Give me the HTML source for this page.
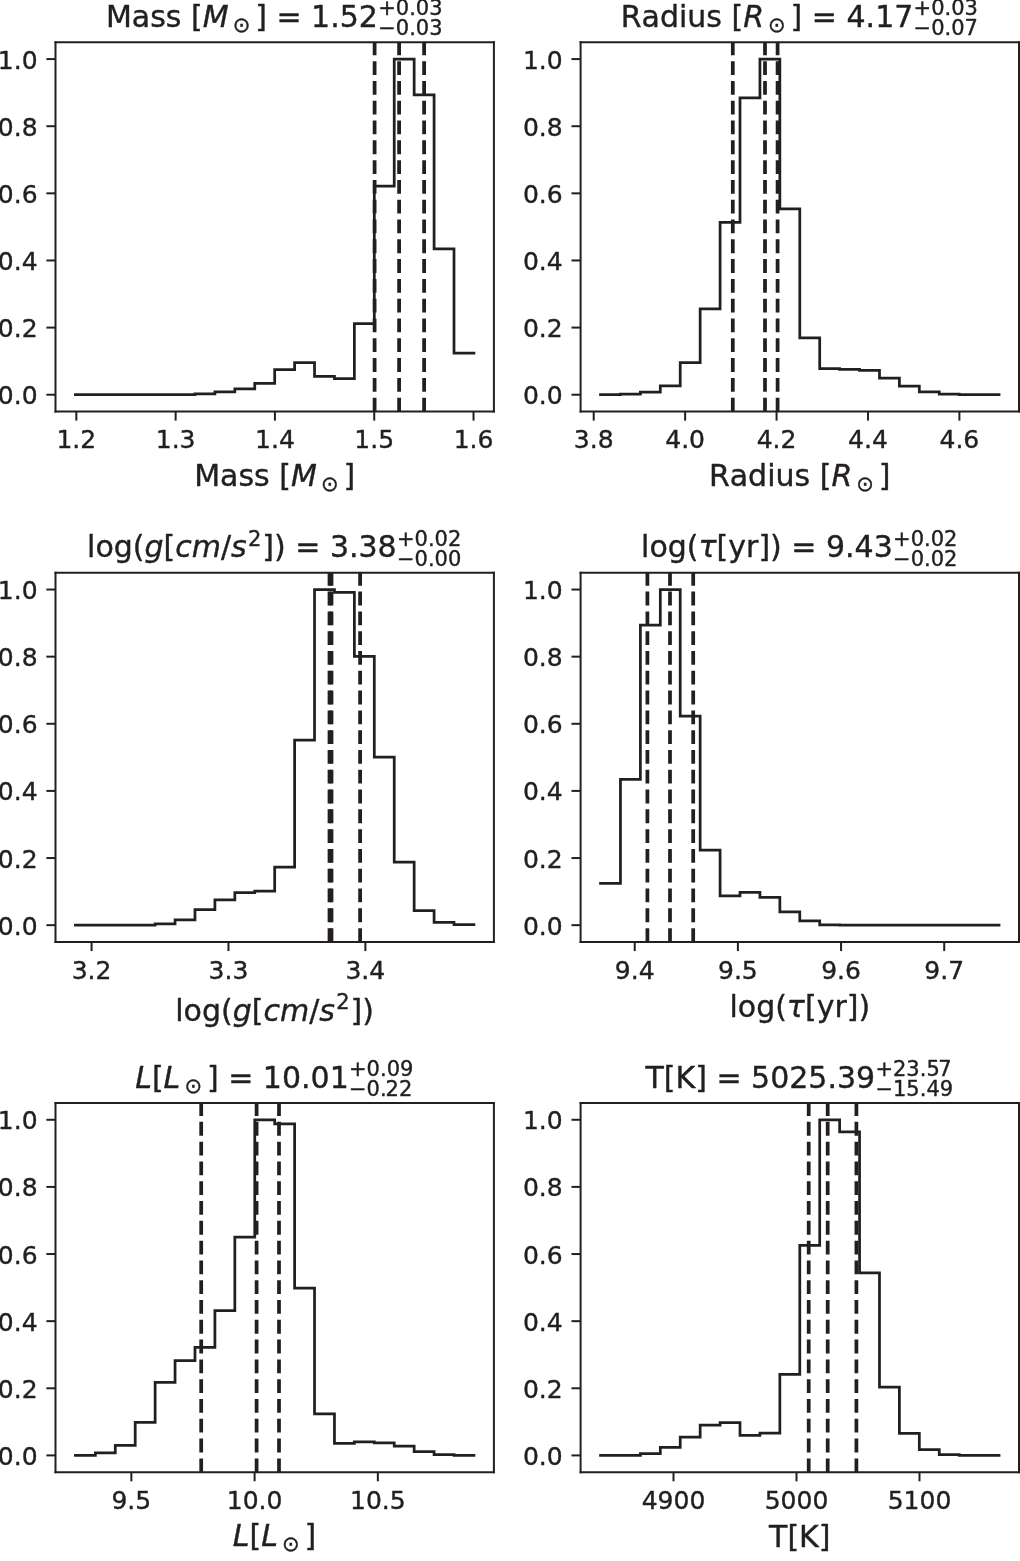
<!DOCTYPE html>
<html><head><meta charset="utf-8"><title>Posterior histograms</title>
<style>html,body{margin:0;padding:0;background:#fff;}body{width:1020px;height:1561px;overflow:hidden;}svg{display:block;}text{stroke:#231f20;stroke-width:0.16px;}</style>
</head><body>
<svg width="1020" height="1561" viewBox="0 0 408 624.4" version="1.1">
<defs>
<style type="text/css">*{stroke-linejoin: round; stroke-linecap: butt}</style>
</defs>
<g id="figure_1">
<g id="patch_1">
<path d="M 0 624.4
L 408 624.4
L 408 0
L 0 0
z
" style="fill: #ffffff"/>
</g>
<g id="axes_1">
<g id="patch_2">
<path d="M 22.2 164.6
L 197.56 164.6
L 197.56 16.92
L 22.2 16.92
z
" style="fill: #ffffff"/>
</g>
<g id="matplotlib.axis_1">
<g id="xtick_1">
<g id="line2d_1">
<g>
<path d="M 0 0
L 0 3.65
" transform="translate(30.533333 164.6)" style="fill: #231f20; stroke: #231f20; stroke-width: 0.8"/>
</g>
</g>
<g id="text_1">
<text style="font-size: 10px; font-family: 'DejaVu Sans', 'Bitstream Vera Sans', 'Computer Modern Sans Serif', 'Lucida Grande', 'Verdana', 'Geneva', 'Lucid', 'Arial', 'Helvetica', 'Avant Garde', sans-serif; text-anchor: middle; fill: #231f20" x="30.533333" y="179.348437" transform="rotate(-0 30.533333 179.348437)">1.2</text>
</g>
</g>
<g id="xtick_2">
<g id="line2d_2">
<g>
<path d="M 0 0
L 0 3.65
" transform="translate(70.253333 164.6)" style="fill: #231f20; stroke: #231f20; stroke-width: 0.8"/>
</g>
</g>
<g id="text_2">
<text style="font-size: 10px; font-family: 'DejaVu Sans', 'Bitstream Vera Sans', 'Computer Modern Sans Serif', 'Lucida Grande', 'Verdana', 'Geneva', 'Lucid', 'Arial', 'Helvetica', 'Avant Garde', sans-serif; text-anchor: middle; fill: #231f20" x="70.253333" y="179.348437" transform="rotate(-0 70.253333 179.348437)">1.3</text>
</g>
</g>
<g id="xtick_3">
<g id="line2d_3">
<g>
<path d="M 0 0
L 0 3.65
" transform="translate(109.973333 164.6)" style="fill: #231f20; stroke: #231f20; stroke-width: 0.8"/>
</g>
</g>
<g id="text_3">
<text style="font-size: 10px; font-family: 'DejaVu Sans', 'Bitstream Vera Sans', 'Computer Modern Sans Serif', 'Lucida Grande', 'Verdana', 'Geneva', 'Lucid', 'Arial', 'Helvetica', 'Avant Garde', sans-serif; text-anchor: middle; fill: #231f20" x="109.973333" y="179.348437" transform="rotate(-0 109.973333 179.348437)">1.4</text>
</g>
</g>
<g id="xtick_4">
<g id="line2d_4">
<g>
<path d="M 0 0
L 0 3.65
" transform="translate(149.693333 164.6)" style="fill: #231f20; stroke: #231f20; stroke-width: 0.8"/>
</g>
</g>
<g id="text_4">
<text style="font-size: 10px; font-family: 'DejaVu Sans', 'Bitstream Vera Sans', 'Computer Modern Sans Serif', 'Lucida Grande', 'Verdana', 'Geneva', 'Lucid', 'Arial', 'Helvetica', 'Avant Garde', sans-serif; text-anchor: middle; fill: #231f20" x="149.693333" y="179.348437" transform="rotate(-0 149.693333 179.348437)">1.5</text>
</g>
</g>
<g id="xtick_5">
<g id="line2d_5">
<g>
<path d="M 0 0
L 0 3.65
" transform="translate(189.413333 164.6)" style="fill: #231f20; stroke: #231f20; stroke-width: 0.8"/>
</g>
</g>
<g id="text_5">
<text style="font-size: 10px; font-family: 'DejaVu Sans', 'Bitstream Vera Sans', 'Computer Modern Sans Serif', 'Lucida Grande', 'Verdana', 'Geneva', 'Lucid', 'Arial', 'Helvetica', 'Avant Garde', sans-serif; text-anchor: middle; fill: #231f20" x="189.413333" y="179.348437" transform="rotate(-0 189.413333 179.348437)">1.6</text>
</g>
</g>
<g id="text_6">
<g style="fill: #231f20" transform="translate(77.66 195.30625)">
<text>
<tspan x="0" y="-0.875" style="font-size: 12px; font-family: 'DejaVu Sans'; fill: #231f20">M</tspan>
<tspan x="10.353516" y="-0.875" style="font-size: 12px; font-family: 'DejaVu Sans'; fill: #231f20">a</tspan>
<tspan x="17.707031" y="-0.875" style="font-size: 12px; font-family: 'DejaVu Sans'; fill: #231f20">s</tspan>
<tspan x="23.958984" y="-0.875" style="font-size: 12px; font-family: 'DejaVu Sans'; fill: #231f20">s</tspan>
<tspan x="30.210938" y="-0.875" style="font-size: 12px; font-family: 'DejaVu Sans'; fill: #231f20"> </tspan>
<tspan x="34.025391" y="-0.875" style="font-size: 12px; font-family: 'DejaVu Sans'; fill: #231f20">[</tspan>
<tspan x="59.7" y="-0.875" style="font-size: 12px; font-family: 'DejaVu Sans'; fill: #231f20">]</tspan>
<tspan x="38.707031" y="-0.875" style="font-style: oblique; font-size: 12px; font-family: 'DejaVu Sans'; fill: #231f20">M</tspan>
<tspan x="50.69707" y="1.09375" style="font-size: 8.4px; font-family: 'DejaVu Sans'; fill: #231f20">⊙</tspan>
</text>
</g>
</g>
</g>
<g id="matplotlib.axis_2">
<g id="ytick_1">
<g id="line2d_6">
<g>
<path d="M 0 0
L -3.65 0
" transform="translate(22.2 157.887273)" style="fill: #231f20; stroke: #231f20; stroke-width: 0.8"/>
</g>
</g>
<g id="text_7">
<text style="font-size: 10px; font-family: 'DejaVu Sans', 'Bitstream Vera Sans', 'Computer Modern Sans Serif', 'Lucida Grande', 'Verdana', 'Geneva', 'Lucid', 'Arial', 'Helvetica', 'Avant Garde', sans-serif; text-anchor: end; fill: #231f20" x="15.05" y="161.686491" transform="rotate(-0 15.05 161.686491)">0.0</text>
</g>
</g>
<g id="ytick_2">
<g id="line2d_7">
<g>
<path d="M 0 0
L -3.65 0
" transform="translate(22.2 131.036364)" style="fill: #231f20; stroke: #231f20; stroke-width: 0.8"/>
</g>
</g>
<g id="text_8">
<text style="font-size: 10px; font-family: 'DejaVu Sans', 'Bitstream Vera Sans', 'Computer Modern Sans Serif', 'Lucida Grande', 'Verdana', 'Geneva', 'Lucid', 'Arial', 'Helvetica', 'Avant Garde', sans-serif; text-anchor: end; fill: #231f20" x="15.05" y="134.835582" transform="rotate(-0 15.05 134.835582)">0.2</text>
</g>
</g>
<g id="ytick_3">
<g id="line2d_8">
<g>
<path d="M 0 0
L -3.65 0
" transform="translate(22.2 104.185455)" style="fill: #231f20; stroke: #231f20; stroke-width: 0.8"/>
</g>
</g>
<g id="text_9">
<text style="font-size: 10px; font-family: 'DejaVu Sans', 'Bitstream Vera Sans', 'Computer Modern Sans Serif', 'Lucida Grande', 'Verdana', 'Geneva', 'Lucid', 'Arial', 'Helvetica', 'Avant Garde', sans-serif; text-anchor: end; fill: #231f20" x="15.05" y="107.984673" transform="rotate(-0 15.05 107.984673)">0.4</text>
</g>
</g>
<g id="ytick_4">
<g id="line2d_9">
<g>
<path d="M 0 0
L -3.65 0
" transform="translate(22.2 77.334545)" style="fill: #231f20; stroke: #231f20; stroke-width: 0.8"/>
</g>
</g>
<g id="text_10">
<text style="font-size: 10px; font-family: 'DejaVu Sans', 'Bitstream Vera Sans', 'Computer Modern Sans Serif', 'Lucida Grande', 'Verdana', 'Geneva', 'Lucid', 'Arial', 'Helvetica', 'Avant Garde', sans-serif; text-anchor: end; fill: #231f20" x="15.05" y="81.133764" transform="rotate(-0 15.05 81.133764)">0.6</text>
</g>
</g>
<g id="ytick_5">
<g id="line2d_10">
<g>
<path d="M 0 0
L -3.65 0
" transform="translate(22.2 50.483636)" style="fill: #231f20; stroke: #231f20; stroke-width: 0.8"/>
</g>
</g>
<g id="text_11">
<text style="font-size: 10px; font-family: 'DejaVu Sans', 'Bitstream Vera Sans', 'Computer Modern Sans Serif', 'Lucida Grande', 'Verdana', 'Geneva', 'Lucid', 'Arial', 'Helvetica', 'Avant Garde', sans-serif; text-anchor: end; fill: #231f20" x="15.05" y="54.282855" transform="rotate(-0 15.05 54.282855)">0.8</text>
</g>
</g>
<g id="ytick_6">
<g id="line2d_11">
<g>
<path d="M 0 0
L -3.65 0
" transform="translate(22.2 23.632727)" style="fill: #231f20; stroke: #231f20; stroke-width: 0.8"/>
</g>
</g>
<g id="text_12">
<text style="font-size: 10px; font-family: 'DejaVu Sans', 'Bitstream Vera Sans', 'Computer Modern Sans Serif', 'Lucida Grande', 'Verdana', 'Geneva', 'Lucid', 'Arial', 'Helvetica', 'Avant Garde', sans-serif; text-anchor: end; fill: #231f20" x="15.05" y="27.431946" transform="rotate(-0 15.05 27.431946)">1.0</text>
</g>
</g>
</g>
<g id="line2d_12">
<path d="M 30.172 157.887273
L 38.142 157.887273
L 38.142 157.887273
L 46.112 157.887273
L 46.112 157.887273
L 54.082 157.887273
L 54.082 157.887273
L 62.052 157.887273
L 62.052 157.887273
L 70.022 157.887273
L 70.022 157.80672
L 77.992 157.80672
L 77.992 157.538211
L 85.962 157.538211
L 85.962 156.732684
L 93.932 156.732684
L 93.932 155.524393
L 101.902 155.524393
L 101.902 153.37632
L 109.872 153.37632
L 109.872 147.871884
L 117.842 147.871884
L 117.842 145.052538
L 125.812 145.052538
L 125.812 150.556975
L 133.782 150.556975
L 133.782 151.496756
L 141.752 151.496756
L 141.752 129.479011
L 149.722 129.479011
L 149.722 74.434647
L 157.692 74.434647
L 157.692 23.632727
L 165.662 23.632727
L 165.662 37.917411
L 173.632 37.917411
L 173.632 99.540247
L 181.602 99.540247
L 181.602 141.293411
L 189.572 141.293411
" clip-path="url(#p7768ed4035)" style="fill: none; stroke: #231f20; stroke-width: 1.1; stroke-linejoin: miter; stroke-linecap: square"/>
</g>
<g id="line2d_13">
<path d="M 149.84 164.6
L 149.84 16.92
" clip-path="url(#p7768ed4035)" style="fill: none; stroke-dasharray: 5.5278,2.3904; stroke-dashoffset: 0; stroke: #231f20; stroke-width: 1.5"/>
</g>
<g id="line2d_14">
<path d="M 159.64 164.6
L 159.64 16.92
" clip-path="url(#p7768ed4035)" style="fill: none; stroke-dasharray: 5.5278,2.3904; stroke-dashoffset: 0; stroke: #231f20; stroke-width: 1.5"/>
</g>
<g id="line2d_15">
<path d="M 169.64 164.6
L 169.64 16.92
" clip-path="url(#p7768ed4035)" style="fill: none; stroke-dasharray: 5.5278,2.3904; stroke-dashoffset: 0; stroke: #231f20; stroke-width: 1.5"/>
</g>
<g id="patch_3">
<path d="M 22.2 164.6
L 22.2 16.92
" style="fill: none; stroke: #231f20; stroke-width: 0.8; stroke-linejoin: miter; stroke-linecap: square"/>
</g>
<g id="patch_4">
<path d="M 197.56 164.6
L 197.56 16.92
" style="fill: none; stroke: #231f20; stroke-width: 0.8; stroke-linejoin: miter; stroke-linecap: square"/>
</g>
<g id="patch_5">
<path d="M 22.2 164.6
L 197.56 164.6
" style="fill: none; stroke: #231f20; stroke-width: 0.8; stroke-linejoin: miter; stroke-linecap: square"/>
</g>
<g id="patch_6">
<path d="M 22.2 16.92
L 197.56 16.92
" style="fill: none; stroke: #231f20; stroke-width: 0.8; stroke-linejoin: miter; stroke-linecap: square"/>
</g>
<g id="text_13">
<g style="fill: #231f20" transform="translate(42.38 10.92)">
<text>
<tspan x="0" y="-0.171875" style="font-size: 12px; font-family: 'DejaVu Sans'; fill: #231f20">M</tspan>
<tspan x="10.353516" y="-0.171875" style="font-size: 12px; font-family: 'DejaVu Sans'; fill: #231f20">a</tspan>
<tspan x="17.707031" y="-0.171875" style="font-size: 12px; font-family: 'DejaVu Sans'; fill: #231f20">s</tspan>
<tspan x="23.958984" y="-0.171875" style="font-size: 12px; font-family: 'DejaVu Sans'; fill: #231f20">s</tspan>
<tspan x="30.210938" y="-0.171875" style="font-size: 12px; font-family: 'DejaVu Sans'; fill: #231f20"> </tspan>
<tspan x="34.025391" y="-0.171875" style="font-size: 12px; font-family: 'DejaVu Sans'; fill: #231f20">[</tspan>
<tspan x="59.7" y="-0.171875" style="font-size: 12px; font-family: 'DejaVu Sans'; fill: #231f20">]</tspan>
<tspan x="64.381641" y="-0.171875" style="font-size: 12px; font-family: 'DejaVu Sans'; fill: #231f20"> </tspan>
<tspan x="68.196094" y="-0.171875" style="font-size: 12px; font-family: 'DejaVu Sans'; fill: #231f20">=</tspan>
<tspan x="78.250781" y="-0.171875" style="font-size: 12px; font-family: 'DejaVu Sans'; fill: #231f20"> </tspan>
<tspan x="82.065234" y="-0.171875" style="font-size: 12px; font-family: 'DejaVu Sans'; fill: #231f20">1</tspan>
<tspan x="89.7" y="-0.171875" style="font-size: 12px; font-family: 'DejaVu Sans'; fill: #231f20">.</tspan>
<tspan x="93.514453" y="-0.171875" style="font-size: 12px; font-family: 'DejaVu Sans'; fill: #231f20">5</tspan>
<tspan x="101.149219" y="-0.171875" style="font-size: 12px; font-family: 'DejaVu Sans'; fill: #231f20">2</tspan>
<tspan x="38.707031" y="-0.171875" style="font-style: oblique; font-size: 12px; font-family: 'DejaVu Sans'; fill: #231f20">M</tspan>
<tspan x="50.69707" y="1.796875" style="font-size: 8.4px; font-family: 'DejaVu Sans'; fill: #231f20">⊙</tspan>
<tspan x="108.898828" y="-4.765625" style="font-size: 8.4px; font-family: 'DejaVu Sans'; fill: #231f20">+</tspan>
<tspan x="108.898828" y="3.109375" style="font-size: 8.4px; font-family: 'DejaVu Sans'; fill: #231f20">−</tspan>
<tspan x="115.937109" y="-4.765625" style="font-size: 8.4px; font-family: 'DejaVu Sans'; fill: #231f20">0</tspan>
<tspan x="115.937109" y="3.109375" style="font-size: 8.4px; font-family: 'DejaVu Sans'; fill: #231f20">0</tspan>
<tspan x="121.281445" y="-4.765625" style="font-size: 8.4px; font-family: 'DejaVu Sans'; fill: #231f20">.</tspan>
<tspan x="121.281445" y="3.109375" style="font-size: 8.4px; font-family: 'DejaVu Sans'; fill: #231f20">.</tspan>
<tspan x="123.951562" y="-4.765625" style="font-size: 8.4px; font-family: 'DejaVu Sans'; fill: #231f20">0</tspan>
<tspan x="123.951562" y="3.109375" style="font-size: 8.4px; font-family: 'DejaVu Sans'; fill: #231f20">0</tspan>
<tspan x="129.295898" y="-4.765625" style="font-size: 8.4px; font-family: 'DejaVu Sans'; fill: #231f20">3</tspan>
<tspan x="129.295898" y="3.109375" style="font-size: 8.4px; font-family: 'DejaVu Sans'; fill: #231f20">3</tspan>
</text>
</g>
</g>
</g>
<g id="axes_2">
<g id="patch_7">
<path d="M 232.24 164.6
L 407.6 164.6
L 407.6 16.92
L 232.24 16.92
z
" style="fill: #ffffff"/>
</g>
<g id="matplotlib.axis_3">
<g id="xtick_6">
<g id="line2d_16">
<g>
<path d="M 0 0
L 0 3.65
" transform="translate(237.484 164.6)" style="fill: #231f20; stroke: #231f20; stroke-width: 0.8"/>
</g>
</g>
<g id="text_14">
<text style="font-size: 10px; font-family: 'DejaVu Sans', 'Bitstream Vera Sans', 'Computer Modern Sans Serif', 'Lucida Grande', 'Verdana', 'Geneva', 'Lucid', 'Arial', 'Helvetica', 'Avant Garde', sans-serif; text-anchor: middle; fill: #231f20" x="237.484" y="179.348437" transform="rotate(-0 237.484 179.348437)">3.8</text>
</g>
</g>
<g id="xtick_7">
<g id="line2d_17">
<g>
<path d="M 0 0
L 0 3.65
" transform="translate(274.052 164.6)" style="fill: #231f20; stroke: #231f20; stroke-width: 0.8"/>
</g>
</g>
<g id="text_15">
<text style="font-size: 10px; font-family: 'DejaVu Sans', 'Bitstream Vera Sans', 'Computer Modern Sans Serif', 'Lucida Grande', 'Verdana', 'Geneva', 'Lucid', 'Arial', 'Helvetica', 'Avant Garde', sans-serif; text-anchor: middle; fill: #231f20" x="274.052" y="179.348437" transform="rotate(-0 274.052 179.348437)">4.0</text>
</g>
</g>
<g id="xtick_8">
<g id="line2d_18">
<g>
<path d="M 0 0
L 0 3.65
" transform="translate(310.62 164.6)" style="fill: #231f20; stroke: #231f20; stroke-width: 0.8"/>
</g>
</g>
<g id="text_16">
<text style="font-size: 10px; font-family: 'DejaVu Sans', 'Bitstream Vera Sans', 'Computer Modern Sans Serif', 'Lucida Grande', 'Verdana', 'Geneva', 'Lucid', 'Arial', 'Helvetica', 'Avant Garde', sans-serif; text-anchor: middle; fill: #231f20" x="310.62" y="179.348437" transform="rotate(-0 310.62 179.348437)">4.2</text>
</g>
</g>
<g id="xtick_9">
<g id="line2d_19">
<g>
<path d="M 0 0
L 0 3.65
" transform="translate(347.188 164.6)" style="fill: #231f20; stroke: #231f20; stroke-width: 0.8"/>
</g>
</g>
<g id="text_17">
<text style="font-size: 10px; font-family: 'DejaVu Sans', 'Bitstream Vera Sans', 'Computer Modern Sans Serif', 'Lucida Grande', 'Verdana', 'Geneva', 'Lucid', 'Arial', 'Helvetica', 'Avant Garde', sans-serif; text-anchor: middle; fill: #231f20" x="347.188" y="179.348437" transform="rotate(-0 347.188 179.348437)">4.4</text>
</g>
</g>
<g id="xtick_10">
<g id="line2d_20">
<g>
<path d="M 0 0
L 0 3.65
" transform="translate(383.756 164.6)" style="fill: #231f20; stroke: #231f20; stroke-width: 0.8"/>
</g>
</g>
<g id="text_18">
<text style="font-size: 10px; font-family: 'DejaVu Sans', 'Bitstream Vera Sans', 'Computer Modern Sans Serif', 'Lucida Grande', 'Verdana', 'Geneva', 'Lucid', 'Arial', 'Helvetica', 'Avant Garde', sans-serif; text-anchor: middle; fill: #231f20" x="383.756" y="179.348437" transform="rotate(-0 383.756 179.348437)">4.6</text>
</g>
</g>
<g id="text_19">
<g style="fill: #231f20" transform="translate(283.56 195.34625)">
<text>
<tspan x="0" y="-0.875" style="font-size: 12px; font-family: 'DejaVu Sans'; fill: #231f20">R</tspan>
<tspan x="8.337891" y="-0.875" style="font-size: 12px; font-family: 'DejaVu Sans'; fill: #231f20">a</tspan>
<tspan x="15.691406" y="-0.875" style="font-size: 12px; font-family: 'DejaVu Sans'; fill: #231f20">d</tspan>
<tspan x="23.308594" y="-0.875" style="font-size: 12px; font-family: 'DejaVu Sans'; fill: #231f20">i</tspan>
<tspan x="26.642578" y="-0.875" style="font-size: 12px; font-family: 'DejaVu Sans'; fill: #231f20">u</tspan>
<tspan x="34.248047" y="-0.875" style="font-size: 12px; font-family: 'DejaVu Sans'; fill: #231f20">s</tspan>
<tspan x="40.5" y="-0.875" style="font-size: 12px; font-family: 'DejaVu Sans'; fill: #231f20"> </tspan>
<tspan x="44.314453" y="-0.875" style="font-size: 12px; font-family: 'DejaVu Sans'; fill: #231f20">[</tspan>
<tspan x="67.973438" y="-0.875" style="font-size: 12px; font-family: 'DejaVu Sans'; fill: #231f20">]</tspan>
<tspan x="48.996094" y="-0.875" style="font-style: oblique; font-size: 12px; font-family: 'DejaVu Sans'; fill: #231f20">R</tspan>
<tspan x="58.970508" y="1.09375" style="font-size: 8.4px; font-family: 'DejaVu Sans'; fill: #231f20">⊙</tspan>
</text>
</g>
</g>
</g>
<g id="matplotlib.axis_4">
<g id="ytick_7">
<g id="line2d_21">
<g>
<path d="M 0 0
L -3.65 0
" transform="translate(232.24 157.887273)" style="fill: #231f20; stroke: #231f20; stroke-width: 0.8"/>
</g>
</g>
<g id="text_20">
<text style="font-size: 10px; font-family: 'DejaVu Sans', 'Bitstream Vera Sans', 'Computer Modern Sans Serif', 'Lucida Grande', 'Verdana', 'Geneva', 'Lucid', 'Arial', 'Helvetica', 'Avant Garde', sans-serif; text-anchor: end; fill: #231f20" x="225.09" y="161.686491" transform="rotate(-0 225.09 161.686491)">0.0</text>
</g>
</g>
<g id="ytick_8">
<g id="line2d_22">
<g>
<path d="M 0 0
L -3.65 0
" transform="translate(232.24 131.036364)" style="fill: #231f20; stroke: #231f20; stroke-width: 0.8"/>
</g>
</g>
<g id="text_21">
<text style="font-size: 10px; font-family: 'DejaVu Sans', 'Bitstream Vera Sans', 'Computer Modern Sans Serif', 'Lucida Grande', 'Verdana', 'Geneva', 'Lucid', 'Arial', 'Helvetica', 'Avant Garde', sans-serif; text-anchor: end; fill: #231f20" x="225.09" y="134.835582" transform="rotate(-0 225.09 134.835582)">0.2</text>
</g>
</g>
<g id="ytick_9">
<g id="line2d_23">
<g>
<path d="M 0 0
L -3.65 0
" transform="translate(232.24 104.185455)" style="fill: #231f20; stroke: #231f20; stroke-width: 0.8"/>
</g>
</g>
<g id="text_22">
<text style="font-size: 10px; font-family: 'DejaVu Sans', 'Bitstream Vera Sans', 'Computer Modern Sans Serif', 'Lucida Grande', 'Verdana', 'Geneva', 'Lucid', 'Arial', 'Helvetica', 'Avant Garde', sans-serif; text-anchor: end; fill: #231f20" x="225.09" y="107.984673" transform="rotate(-0 225.09 107.984673)">0.4</text>
</g>
</g>
<g id="ytick_10">
<g id="line2d_24">
<g>
<path d="M 0 0
L -3.65 0
" transform="translate(232.24 77.334545)" style="fill: #231f20; stroke: #231f20; stroke-width: 0.8"/>
</g>
</g>
<g id="text_23">
<text style="font-size: 10px; font-family: 'DejaVu Sans', 'Bitstream Vera Sans', 'Computer Modern Sans Serif', 'Lucida Grande', 'Verdana', 'Geneva', 'Lucid', 'Arial', 'Helvetica', 'Avant Garde', sans-serif; text-anchor: end; fill: #231f20" x="225.09" y="81.133764" transform="rotate(-0 225.09 81.133764)">0.6</text>
</g>
</g>
<g id="ytick_11">
<g id="line2d_25">
<g>
<path d="M 0 0
L -3.65 0
" transform="translate(232.24 50.483636)" style="fill: #231f20; stroke: #231f20; stroke-width: 0.8"/>
</g>
</g>
<g id="text_24">
<text style="font-size: 10px; font-family: 'DejaVu Sans', 'Bitstream Vera Sans', 'Computer Modern Sans Serif', 'Lucida Grande', 'Verdana', 'Geneva', 'Lucid', 'Arial', 'Helvetica', 'Avant Garde', sans-serif; text-anchor: end; fill: #231f20" x="225.09" y="54.282855" transform="rotate(-0 225.09 54.282855)">0.8</text>
</g>
</g>
<g id="ytick_12">
<g id="line2d_26">
<g>
<path d="M 0 0
L -3.65 0
" transform="translate(232.24 23.632727)" style="fill: #231f20; stroke: #231f20; stroke-width: 0.8"/>
</g>
</g>
<g id="text_25">
<text style="font-size: 10px; font-family: 'DejaVu Sans', 'Bitstream Vera Sans', 'Computer Modern Sans Serif', 'Lucida Grande', 'Verdana', 'Geneva', 'Lucid', 'Arial', 'Helvetica', 'Avant Garde', sans-serif; text-anchor: end; fill: #231f20" x="225.09" y="27.431946" transform="rotate(-0 225.09 27.431946)">1.0</text>
</g>
</g>
</g>
<g id="line2d_27">
<path d="M 240.212 157.887273
L 248.182 157.887273
L 248.182 157.672465
L 256.152 157.672465
L 256.152 156.866938
L 264.122 156.866938
L 264.122 154.316102
L 272.092 154.316102
L 272.092 145.052538
L 280.062 145.052538
L 280.062 123.571811
L 288.032 123.571811
L 288.032 88.934138
L 296.002 88.934138
L 296.002 39.125702
L 303.972 39.125702
L 303.972 23.632727
L 311.942 23.632727
L 311.942 83.563956
L 319.912 83.563956
L 319.912 135.117702
L 327.882 135.117702
L 327.882 147.46912
L 335.852 147.46912
L 335.852 147.737629
L 343.822 147.737629
L 343.822 148.140393
L 351.792 148.140393
L 351.792 151.228247
L 359.762 151.228247
L 359.762 154.450356
L 367.732 154.450356
L 367.732 156.732684
L 375.702 156.732684
L 375.702 157.672465
L 383.672 157.672465
L 383.672 157.887273
L 391.642 157.887273
L 391.642 157.887273
L 399.612 157.887273
" clip-path="url(#pa40508219f)" style="fill: none; stroke: #231f20; stroke-width: 1.1; stroke-linejoin: miter; stroke-linecap: square"/>
</g>
<g id="line2d_28">
<path d="M 293.12 164.6
L 293.12 16.92
" clip-path="url(#pa40508219f)" style="fill: none; stroke-dasharray: 5.5278,2.3904; stroke-dashoffset: 0; stroke: #231f20; stroke-width: 1.5"/>
</g>
<g id="line2d_29">
<path d="M 306 164.6
L 306 16.92
" clip-path="url(#pa40508219f)" style="fill: none; stroke-dasharray: 5.5278,2.3904; stroke-dashoffset: 0; stroke: #231f20; stroke-width: 1.5"/>
</g>
<g id="line2d_30">
<path d="M 311.04 164.6
L 311.04 16.92
" clip-path="url(#pa40508219f)" style="fill: none; stroke-dasharray: 5.5278,2.3904; stroke-dashoffset: 0; stroke: #231f20; stroke-width: 1.5"/>
</g>
<g id="patch_8">
<path d="M 232.24 164.6
L 232.24 16.92
" style="fill: none; stroke: #231f20; stroke-width: 0.8; stroke-linejoin: miter; stroke-linecap: square"/>
</g>
<g id="patch_9">
<path d="M 407.6 164.6
L 407.6 16.92
" style="fill: none; stroke: #231f20; stroke-width: 0.8; stroke-linejoin: miter; stroke-linecap: square"/>
</g>
<g id="patch_10">
<path d="M 232.24 164.6
L 407.6 164.6
" style="fill: none; stroke: #231f20; stroke-width: 0.8; stroke-linejoin: miter; stroke-linecap: square"/>
</g>
<g id="patch_11">
<path d="M 232.24 16.92
L 407.6 16.92
" style="fill: none; stroke: #231f20; stroke-width: 0.8; stroke-linejoin: miter; stroke-linecap: square"/>
</g>
<g id="text_26">
<g style="fill: #231f20" transform="translate(248.28 10.92)">
<text>
<tspan x="0" y="-0.171875" style="font-size: 12px; font-family: 'DejaVu Sans'; fill: #231f20">R</tspan>
<tspan x="8.337891" y="-0.171875" style="font-size: 12px; font-family: 'DejaVu Sans'; fill: #231f20">a</tspan>
<tspan x="15.691406" y="-0.171875" style="font-size: 12px; font-family: 'DejaVu Sans'; fill: #231f20">d</tspan>
<tspan x="23.308594" y="-0.171875" style="font-size: 12px; font-family: 'DejaVu Sans'; fill: #231f20">i</tspan>
<tspan x="26.642578" y="-0.171875" style="font-size: 12px; font-family: 'DejaVu Sans'; fill: #231f20">u</tspan>
<tspan x="34.248047" y="-0.171875" style="font-size: 12px; font-family: 'DejaVu Sans'; fill: #231f20">s</tspan>
<tspan x="40.5" y="-0.171875" style="font-size: 12px; font-family: 'DejaVu Sans'; fill: #231f20"> </tspan>
<tspan x="44.314453" y="-0.171875" style="font-size: 12px; font-family: 'DejaVu Sans'; fill: #231f20">[</tspan>
<tspan x="67.973438" y="-0.171875" style="font-size: 12px; font-family: 'DejaVu Sans'; fill: #231f20">]</tspan>
<tspan x="72.655078" y="-0.171875" style="font-size: 12px; font-family: 'DejaVu Sans'; fill: #231f20"> </tspan>
<tspan x="76.469531" y="-0.171875" style="font-size: 12px; font-family: 'DejaVu Sans'; fill: #231f20">=</tspan>
<tspan x="86.524219" y="-0.171875" style="font-size: 12px; font-family: 'DejaVu Sans'; fill: #231f20"> </tspan>
<tspan x="90.338672" y="-0.171875" style="font-size: 12px; font-family: 'DejaVu Sans'; fill: #231f20">4</tspan>
<tspan x="97.973438" y="-0.171875" style="font-size: 12px; font-family: 'DejaVu Sans'; fill: #231f20">.</tspan>
<tspan x="101.787891" y="-0.171875" style="font-size: 12px; font-family: 'DejaVu Sans'; fill: #231f20">1</tspan>
<tspan x="109.422656" y="-0.171875" style="font-size: 12px; font-family: 'DejaVu Sans'; fill: #231f20">7</tspan>
<tspan x="48.996094" y="-0.171875" style="font-style: oblique; font-size: 12px; font-family: 'DejaVu Sans'; fill: #231f20">R</tspan>
<tspan x="58.970508" y="1.796875" style="font-size: 8.4px; font-family: 'DejaVu Sans'; fill: #231f20">⊙</tspan>
<tspan x="117.172266" y="-4.765625" style="font-size: 8.4px; font-family: 'DejaVu Sans'; fill: #231f20">+</tspan>
<tspan x="117.172266" y="3.109375" style="font-size: 8.4px; font-family: 'DejaVu Sans'; fill: #231f20">−</tspan>
<tspan x="124.210547" y="-4.765625" style="font-size: 8.4px; font-family: 'DejaVu Sans'; fill: #231f20">0</tspan>
<tspan x="124.210547" y="3.109375" style="font-size: 8.4px; font-family: 'DejaVu Sans'; fill: #231f20">0</tspan>
<tspan x="129.554883" y="-4.765625" style="font-size: 8.4px; font-family: 'DejaVu Sans'; fill: #231f20">.</tspan>
<tspan x="129.554883" y="3.109375" style="font-size: 8.4px; font-family: 'DejaVu Sans'; fill: #231f20">.</tspan>
<tspan x="132.225" y="-4.765625" style="font-size: 8.4px; font-family: 'DejaVu Sans'; fill: #231f20">0</tspan>
<tspan x="132.225" y="3.109375" style="font-size: 8.4px; font-family: 'DejaVu Sans'; fill: #231f20">0</tspan>
<tspan x="137.569336" y="-4.765625" style="font-size: 8.4px; font-family: 'DejaVu Sans'; fill: #231f20">3</tspan>
<tspan x="137.569336" y="3.109375" style="font-size: 8.4px; font-family: 'DejaVu Sans'; fill: #231f20">7</tspan>
</text>
</g>
</g>
</g>
<g id="axes_3">
<g id="patch_12">
<path d="M 22.2 376.78
L 197.56 376.78
L 197.56 229.1
L 22.2 229.1
z
" style="fill: #ffffff"/>
</g>
<g id="matplotlib.axis_5">
<g id="xtick_11">
<g id="line2d_31">
<g>
<path d="M 0 0
L 0 3.65
" transform="translate(36.626667 376.78)" style="fill: #231f20; stroke: #231f20; stroke-width: 0.8"/>
</g>
</g>
<g id="text_27">
<text style="font-size: 10px; font-family: 'DejaVu Sans', 'Bitstream Vera Sans', 'Computer Modern Sans Serif', 'Lucida Grande', 'Verdana', 'Geneva', 'Lucid', 'Arial', 'Helvetica', 'Avant Garde', sans-serif; text-anchor: middle; fill: #231f20" x="36.626667" y="391.528437" transform="rotate(-0 36.626667 391.528437)">3.2</text>
</g>
</g>
<g id="xtick_12">
<g id="line2d_32">
<g>
<path d="M 0 0
L 0 3.65
" transform="translate(91.386667 376.78)" style="fill: #231f20; stroke: #231f20; stroke-width: 0.8"/>
</g>
</g>
<g id="text_28">
<text style="font-size: 10px; font-family: 'DejaVu Sans', 'Bitstream Vera Sans', 'Computer Modern Sans Serif', 'Lucida Grande', 'Verdana', 'Geneva', 'Lucid', 'Arial', 'Helvetica', 'Avant Garde', sans-serif; text-anchor: middle; fill: #231f20" x="91.386667" y="391.528437" transform="rotate(-0 91.386667 391.528437)">3.3</text>
</g>
</g>
<g id="xtick_13">
<g id="line2d_33">
<g>
<path d="M 0 0
L 0 3.65
" transform="translate(146.146667 376.78)" style="fill: #231f20; stroke: #231f20; stroke-width: 0.8"/>
</g>
</g>
<g id="text_29">
<text style="font-size: 10px; font-family: 'DejaVu Sans', 'Bitstream Vera Sans', 'Computer Modern Sans Serif', 'Lucida Grande', 'Verdana', 'Geneva', 'Lucid', 'Arial', 'Helvetica', 'Avant Garde', sans-serif; text-anchor: middle; fill: #231f20" x="146.146667" y="391.528437" transform="rotate(-0 146.146667 391.528437)">3.4</text>
</g>
</g>
<g id="text_30">
<g style="fill: #231f20" transform="translate(70.1 408.528125)">
<text>
<tspan x="0" y="-0.171875" style="font-size: 12px; font-family: 'DejaVu Sans'; fill: #231f20">l</tspan>
<tspan x="3.333984" y="-0.171875" style="font-size: 12px; font-family: 'DejaVu Sans'; fill: #231f20">o</tspan>
<tspan x="10.675781" y="-0.171875" style="font-size: 12px; font-family: 'DejaVu Sans'; fill: #231f20">g</tspan>
<tspan x="18.292969" y="-0.171875" style="font-size: 12px; font-family: 'DejaVu Sans'; fill: #231f20">(</tspan>
<tspan x="30.591797" y="-0.171875" style="font-size: 12px; font-family: 'DejaVu Sans'; fill: #231f20">[</tspan>
<tspan x="53.560547" y="-0.171875" style="font-size: 12px; font-family: 'DejaVu Sans'; fill: #231f20">/</tspan>
<tspan x="70.085742" y="-0.171875" style="font-size: 12px; font-family: 'DejaVu Sans'; fill: #231f20">]</tspan>
<tspan x="74.767383" y="-0.171875" style="font-size: 12px; font-family: 'DejaVu Sans'; fill: #231f20">)</tspan>
<tspan x="22.974609" y="-0.171875" style="font-style: oblique; font-size: 12px; font-family: 'DejaVu Sans'; fill: #231f20">g</tspan>
<tspan x="35.273438" y="-0.171875" style="font-style: oblique; font-size: 12px; font-family: 'DejaVu Sans'; fill: #231f20">c</tspan>
<tspan x="41.871094" y="-0.171875" style="font-style: oblique; font-size: 12px; font-family: 'DejaVu Sans'; fill: #231f20">m</tspan>
<tspan x="57.603516" y="-0.171875" style="font-style: oblique; font-size: 12px; font-family: 'DejaVu Sans'; fill: #231f20">s</tspan>
<tspan x="64.413281" y="-4.765625" style="font-size: 8.4px; font-family: 'DejaVu Sans'; fill: #231f20">2</tspan>
</text>
</g>
</g>
</g>
<g id="matplotlib.axis_6">
<g id="ytick_13">
<g id="line2d_34">
<g>
<path d="M 0 0
L -3.65 0
" transform="translate(22.2 370.067273)" style="fill: #231f20; stroke: #231f20; stroke-width: 0.8"/>
</g>
</g>
<g id="text_31">
<text style="font-size: 10px; font-family: 'DejaVu Sans', 'Bitstream Vera Sans', 'Computer Modern Sans Serif', 'Lucida Grande', 'Verdana', 'Geneva', 'Lucid', 'Arial', 'Helvetica', 'Avant Garde', sans-serif; text-anchor: end; fill: #231f20" x="15.05" y="373.866491" transform="rotate(-0 15.05 373.866491)">0.0</text>
</g>
</g>
<g id="ytick_14">
<g id="line2d_35">
<g>
<path d="M 0 0
L -3.65 0
" transform="translate(22.2 343.216364)" style="fill: #231f20; stroke: #231f20; stroke-width: 0.8"/>
</g>
</g>
<g id="text_32">
<text style="font-size: 10px; font-family: 'DejaVu Sans', 'Bitstream Vera Sans', 'Computer Modern Sans Serif', 'Lucida Grande', 'Verdana', 'Geneva', 'Lucid', 'Arial', 'Helvetica', 'Avant Garde', sans-serif; text-anchor: end; fill: #231f20" x="15.05" y="347.015582" transform="rotate(-0 15.05 347.015582)">0.2</text>
</g>
</g>
<g id="ytick_15">
<g id="line2d_36">
<g>
<path d="M 0 0
L -3.65 0
" transform="translate(22.2 316.365455)" style="fill: #231f20; stroke: #231f20; stroke-width: 0.8"/>
</g>
</g>
<g id="text_33">
<text style="font-size: 10px; font-family: 'DejaVu Sans', 'Bitstream Vera Sans', 'Computer Modern Sans Serif', 'Lucida Grande', 'Verdana', 'Geneva', 'Lucid', 'Arial', 'Helvetica', 'Avant Garde', sans-serif; text-anchor: end; fill: #231f20" x="15.05" y="320.164673" transform="rotate(-0 15.05 320.164673)">0.4</text>
</g>
</g>
<g id="ytick_16">
<g id="line2d_37">
<g>
<path d="M 0 0
L -3.65 0
" transform="translate(22.2 289.514545)" style="fill: #231f20; stroke: #231f20; stroke-width: 0.8"/>
</g>
</g>
<g id="text_34">
<text style="font-size: 10px; font-family: 'DejaVu Sans', 'Bitstream Vera Sans', 'Computer Modern Sans Serif', 'Lucida Grande', 'Verdana', 'Geneva', 'Lucid', 'Arial', 'Helvetica', 'Avant Garde', sans-serif; text-anchor: end; fill: #231f20" x="15.05" y="293.313764" transform="rotate(-0 15.05 293.313764)">0.6</text>
</g>
</g>
<g id="ytick_17">
<g id="line2d_38">
<g>
<path d="M 0 0
L -3.65 0
" transform="translate(22.2 262.663636)" style="fill: #231f20; stroke: #231f20; stroke-width: 0.8"/>
</g>
</g>
<g id="text_35">
<text style="font-size: 10px; font-family: 'DejaVu Sans', 'Bitstream Vera Sans', 'Computer Modern Sans Serif', 'Lucida Grande', 'Verdana', 'Geneva', 'Lucid', 'Arial', 'Helvetica', 'Avant Garde', sans-serif; text-anchor: end; fill: #231f20" x="15.05" y="266.462855" transform="rotate(-0 15.05 266.462855)">0.8</text>
</g>
</g>
<g id="ytick_18">
<g id="line2d_39">
<g>
<path d="M 0 0
L -3.65 0
" transform="translate(22.2 235.812727)" style="fill: #231f20; stroke: #231f20; stroke-width: 0.8"/>
</g>
</g>
<g id="text_36">
<text style="font-size: 10px; font-family: 'DejaVu Sans', 'Bitstream Vera Sans', 'Computer Modern Sans Serif', 'Lucida Grande', 'Verdana', 'Geneva', 'Lucid', 'Arial', 'Helvetica', 'Avant Garde', sans-serif; text-anchor: end; fill: #231f20" x="15.05" y="239.611946" transform="rotate(-0 15.05 239.611946)">1.0</text>
</g>
</g>
</g>
<g id="line2d_40">
<path d="M 30.172 370.067273
L 38.142 370.067273
L 38.142 370.067273
L 46.112 370.067273
L 46.112 370.067273
L 54.082 370.067273
L 54.082 370.067273
L 62.052 370.067273
L 62.052 369.583956
L 70.022 369.583956
L 70.022 367.972902
L 77.992 367.972902
L 77.992 363.811011
L 85.962 363.811011
L 85.962 359.917629
L 93.932 359.917629
L 93.932 357.098284
L 101.902 357.098284
L 101.902 356.427011
L 109.872 356.427011
L 109.872 346.894938
L 117.842 346.894938
L 117.842 296.012465
L 125.812 296.012465
L 125.812 235.812727
L 133.782 235.812727
L 133.782 236.940465
L 141.752 236.940465
L 141.752 262.583084
L 149.722 262.583084
L 149.722 302.859447
L 157.692 302.859447
L 157.692 344.88112
L 165.662 344.88112
L 165.662 364.213775
L 173.632 364.213775
L 173.632 368.912684
L 181.602 368.912684
L 181.602 369.852465
L 189.572 369.852465
" clip-path="url(#p136ecbd6a4)" style="fill: none; stroke: #231f20; stroke-width: 1.1; stroke-linejoin: miter; stroke-linecap: square"/>
</g>
<g id="line2d_41">
<path d="M 131.8 376.78
L 131.8 229.1
" clip-path="url(#p136ecbd6a4)" style="fill: none; stroke-dasharray: 5.5278,2.3904; stroke-dashoffset: 0; stroke: #231f20; stroke-width: 1.5"/>
</g>
<g id="line2d_42">
<path d="M 132.6 376.78
L 132.6 229.1
" clip-path="url(#p136ecbd6a4)" style="fill: none; stroke-dasharray: 5.5278,2.3904; stroke-dashoffset: 0; stroke: #231f20; stroke-width: 1.5"/>
</g>
<g id="line2d_43">
<path d="M 144.04 376.78
L 144.04 229.1
" clip-path="url(#p136ecbd6a4)" style="fill: none; stroke-dasharray: 5.5278,2.3904; stroke-dashoffset: 0; stroke: #231f20; stroke-width: 1.5"/>
</g>
<g id="patch_13">
<path d="M 22.2 376.78
L 22.2 229.1
" style="fill: none; stroke: #231f20; stroke-width: 0.8; stroke-linejoin: miter; stroke-linecap: square"/>
</g>
<g id="patch_14">
<path d="M 197.56 376.78
L 197.56 229.1
" style="fill: none; stroke: #231f20; stroke-width: 0.8; stroke-linejoin: miter; stroke-linecap: square"/>
</g>
<g id="patch_15">
<path d="M 22.2 376.78
L 197.56 376.78
" style="fill: none; stroke: #231f20; stroke-width: 0.8; stroke-linejoin: miter; stroke-linecap: square"/>
</g>
<g id="patch_16">
<path d="M 22.2 229.1
L 197.56 229.1
" style="fill: none; stroke: #231f20; stroke-width: 0.8; stroke-linejoin: miter; stroke-linecap: square"/>
</g>
<g id="text_37">
<g style="fill: #231f20" transform="translate(34.82 223.1)">
<text>
<tspan x="0" y="-0.171875" style="font-size: 12px; font-family: 'DejaVu Sans'; fill: #231f20">l</tspan>
<tspan x="3.333984" y="-0.171875" style="font-size: 12px; font-family: 'DejaVu Sans'; fill: #231f20">o</tspan>
<tspan x="10.675781" y="-0.171875" style="font-size: 12px; font-family: 'DejaVu Sans'; fill: #231f20">g</tspan>
<tspan x="18.292969" y="-0.171875" style="font-size: 12px; font-family: 'DejaVu Sans'; fill: #231f20">(</tspan>
<tspan x="30.591797" y="-0.171875" style="font-size: 12px; font-family: 'DejaVu Sans'; fill: #231f20">[</tspan>
<tspan x="53.560547" y="-0.171875" style="font-size: 12px; font-family: 'DejaVu Sans'; fill: #231f20">/</tspan>
<tspan x="70.085742" y="-0.171875" style="font-size: 12px; font-family: 'DejaVu Sans'; fill: #231f20">]</tspan>
<tspan x="74.767383" y="-0.171875" style="font-size: 12px; font-family: 'DejaVu Sans'; fill: #231f20">)</tspan>
<tspan x="79.449023" y="-0.171875" style="font-size: 12px; font-family: 'DejaVu Sans'; fill: #231f20"> </tspan>
<tspan x="83.263477" y="-0.171875" style="font-size: 12px; font-family: 'DejaVu Sans'; fill: #231f20">=</tspan>
<tspan x="93.318164" y="-0.171875" style="font-size: 12px; font-family: 'DejaVu Sans'; fill: #231f20"> </tspan>
<tspan x="97.132617" y="-0.171875" style="font-size: 12px; font-family: 'DejaVu Sans'; fill: #231f20">3</tspan>
<tspan x="104.767383" y="-0.171875" style="font-size: 12px; font-family: 'DejaVu Sans'; fill: #231f20">.</tspan>
<tspan x="108.581836" y="-0.171875" style="font-size: 12px; font-family: 'DejaVu Sans'; fill: #231f20">3</tspan>
<tspan x="116.216602" y="-0.171875" style="font-size: 12px; font-family: 'DejaVu Sans'; fill: #231f20">8</tspan>
<tspan x="22.974609" y="-0.171875" style="font-style: oblique; font-size: 12px; font-family: 'DejaVu Sans'; fill: #231f20">g</tspan>
<tspan x="35.273438" y="-0.171875" style="font-style: oblique; font-size: 12px; font-family: 'DejaVu Sans'; fill: #231f20">c</tspan>
<tspan x="41.871094" y="-0.171875" style="font-style: oblique; font-size: 12px; font-family: 'DejaVu Sans'; fill: #231f20">m</tspan>
<tspan x="57.603516" y="-0.171875" style="font-style: oblique; font-size: 12px; font-family: 'DejaVu Sans'; fill: #231f20">s</tspan>
<tspan x="64.413281" y="-4.765625" style="font-size: 8.4px; font-family: 'DejaVu Sans'; fill: #231f20">2</tspan>
<tspan x="123.966211" y="-4.765625" style="font-size: 8.4px; font-family: 'DejaVu Sans'; fill: #231f20">+</tspan>
<tspan x="123.966211" y="3.109375" style="font-size: 8.4px; font-family: 'DejaVu Sans'; fill: #231f20">−</tspan>
<tspan x="131.004492" y="-4.765625" style="font-size: 8.4px; font-family: 'DejaVu Sans'; fill: #231f20">0</tspan>
<tspan x="131.004492" y="3.109375" style="font-size: 8.4px; font-family: 'DejaVu Sans'; fill: #231f20">0</tspan>
<tspan x="136.348828" y="-4.765625" style="font-size: 8.4px; font-family: 'DejaVu Sans'; fill: #231f20">.</tspan>
<tspan x="136.348828" y="3.109375" style="font-size: 8.4px; font-family: 'DejaVu Sans'; fill: #231f20">.</tspan>
<tspan x="139.018945" y="-4.765625" style="font-size: 8.4px; font-family: 'DejaVu Sans'; fill: #231f20">0</tspan>
<tspan x="139.018945" y="3.109375" style="font-size: 8.4px; font-family: 'DejaVu Sans'; fill: #231f20">0</tspan>
<tspan x="144.363281" y="-4.765625" style="font-size: 8.4px; font-family: 'DejaVu Sans'; fill: #231f20">2</tspan>
<tspan x="144.363281" y="3.109375" style="font-size: 8.4px; font-family: 'DejaVu Sans'; fill: #231f20">0</tspan>
</text>
</g>
</g>
</g>
<g id="axes_4">
<g id="patch_17">
<path d="M 232.24 376.78
L 407.6 376.78
L 407.6 229.1
L 232.24 229.1
z
" style="fill: #ffffff"/>
</g>
<g id="matplotlib.axis_7">
<g id="xtick_14">
<g id="line2d_44">
<g>
<path d="M 0 0
L 0 3.65
" transform="translate(253.888 376.78)" style="fill: #231f20; stroke: #231f20; stroke-width: 0.8"/>
</g>
</g>
<g id="text_38">
<text style="font-size: 10px; font-family: 'DejaVu Sans', 'Bitstream Vera Sans', 'Computer Modern Sans Serif', 'Lucida Grande', 'Verdana', 'Geneva', 'Lucid', 'Arial', 'Helvetica', 'Avant Garde', sans-serif; text-anchor: middle; fill: #231f20" x="253.888" y="391.528437" transform="rotate(-0 253.888 391.528437)">9.4</text>
</g>
</g>
<g id="xtick_15">
<g id="line2d_45">
<g>
<path d="M 0 0
L 0 3.65
" transform="translate(295.156 376.78)" style="fill: #231f20; stroke: #231f20; stroke-width: 0.8"/>
</g>
</g>
<g id="text_39">
<text style="font-size: 10px; font-family: 'DejaVu Sans', 'Bitstream Vera Sans', 'Computer Modern Sans Serif', 'Lucida Grande', 'Verdana', 'Geneva', 'Lucid', 'Arial', 'Helvetica', 'Avant Garde', sans-serif; text-anchor: middle; fill: #231f20" x="295.156" y="391.528437" transform="rotate(-0 295.156 391.528437)">9.5</text>
</g>
</g>
<g id="xtick_16">
<g id="line2d_46">
<g>
<path d="M 0 0
L 0 3.65
" transform="translate(336.424 376.78)" style="fill: #231f20; stroke: #231f20; stroke-width: 0.8"/>
</g>
</g>
<g id="text_40">
<text style="font-size: 10px; font-family: 'DejaVu Sans', 'Bitstream Vera Sans', 'Computer Modern Sans Serif', 'Lucida Grande', 'Verdana', 'Geneva', 'Lucid', 'Arial', 'Helvetica', 'Avant Garde', sans-serif; text-anchor: middle; fill: #231f20" x="336.424" y="391.528437" transform="rotate(-0 336.424 391.528437)">9.6</text>
</g>
</g>
<g id="xtick_17">
<g id="line2d_47">
<g>
<path d="M 0 0
L 0 3.65
" transform="translate(377.692 376.78)" style="fill: #231f20; stroke: #231f20; stroke-width: 0.8"/>
</g>
</g>
<g id="text_41">
<text style="font-size: 10px; font-family: 'DejaVu Sans', 'Bitstream Vera Sans', 'Computer Modern Sans Serif', 'Lucida Grande', 'Verdana', 'Geneva', 'Lucid', 'Arial', 'Helvetica', 'Avant Garde', sans-serif; text-anchor: middle; fill: #231f20" x="377.692" y="391.528437" transform="rotate(-0 377.692 391.528437)">9.7</text>
</g>
</g>
<g id="text_42">
<g style="fill: #231f20" transform="translate(291.78 407.528125)">
<text>
<tspan x="0" y="-0.875" style="font-size: 12px; font-family: 'DejaVu Sans'; fill: #231f20">l</tspan>
<tspan x="3.333984" y="-0.875" style="font-size: 12px; font-family: 'DejaVu Sans'; fill: #231f20">o</tspan>
<tspan x="10.675781" y="-0.875" style="font-size: 12px; font-family: 'DejaVu Sans'; fill: #231f20">g</tspan>
<tspan x="18.292969" y="-0.875" style="font-size: 12px; font-family: 'DejaVu Sans'; fill: #231f20">(</tspan>
<tspan x="30.199219" y="-0.875" style="font-size: 12px; font-family: 'DejaVu Sans'; fill: #231f20">[</tspan>
<tspan x="34.880859" y="-0.875" style="font-size: 12px; font-family: 'DejaVu Sans'; fill: #231f20">y</tspan>
<tspan x="41.982422" y="-0.875" style="font-size: 12px; font-family: 'DejaVu Sans'; fill: #231f20">r</tspan>
<tspan x="46.916016" y="-0.875" style="font-size: 12px; font-family: 'DejaVu Sans'; fill: #231f20">]</tspan>
<tspan x="51.597656" y="-0.875" style="font-size: 12px; font-family: 'DejaVu Sans'; fill: #231f20">)</tspan>
<tspan x="22.974609" y="-0.875" style="font-style: oblique; font-size: 12px; font-family: 'DejaVu Sans'; fill: #231f20">τ</tspan>
</text>
</g>
</g>
</g>
<g id="matplotlib.axis_8">
<g id="ytick_19">
<g id="line2d_48">
<g>
<path d="M 0 0
L -3.65 0
" transform="translate(232.24 370.067273)" style="fill: #231f20; stroke: #231f20; stroke-width: 0.8"/>
</g>
</g>
<g id="text_43">
<text style="font-size: 10px; font-family: 'DejaVu Sans', 'Bitstream Vera Sans', 'Computer Modern Sans Serif', 'Lucida Grande', 'Verdana', 'Geneva', 'Lucid', 'Arial', 'Helvetica', 'Avant Garde', sans-serif; text-anchor: end; fill: #231f20" x="225.09" y="373.866491" transform="rotate(-0 225.09 373.866491)">0.0</text>
</g>
</g>
<g id="ytick_20">
<g id="line2d_49">
<g>
<path d="M 0 0
L -3.65 0
" transform="translate(232.24 343.216364)" style="fill: #231f20; stroke: #231f20; stroke-width: 0.8"/>
</g>
</g>
<g id="text_44">
<text style="font-size: 10px; font-family: 'DejaVu Sans', 'Bitstream Vera Sans', 'Computer Modern Sans Serif', 'Lucida Grande', 'Verdana', 'Geneva', 'Lucid', 'Arial', 'Helvetica', 'Avant Garde', sans-serif; text-anchor: end; fill: #231f20" x="225.09" y="347.015582" transform="rotate(-0 225.09 347.015582)">0.2</text>
</g>
</g>
<g id="ytick_21">
<g id="line2d_50">
<g>
<path d="M 0 0
L -3.65 0
" transform="translate(232.24 316.365455)" style="fill: #231f20; stroke: #231f20; stroke-width: 0.8"/>
</g>
</g>
<g id="text_45">
<text style="font-size: 10px; font-family: 'DejaVu Sans', 'Bitstream Vera Sans', 'Computer Modern Sans Serif', 'Lucida Grande', 'Verdana', 'Geneva', 'Lucid', 'Arial', 'Helvetica', 'Avant Garde', sans-serif; text-anchor: end; fill: #231f20" x="225.09" y="320.164673" transform="rotate(-0 225.09 320.164673)">0.4</text>
</g>
</g>
<g id="ytick_22">
<g id="line2d_51">
<g>
<path d="M 0 0
L -3.65 0
" transform="translate(232.24 289.514545)" style="fill: #231f20; stroke: #231f20; stroke-width: 0.8"/>
</g>
</g>
<g id="text_46">
<text style="font-size: 10px; font-family: 'DejaVu Sans', 'Bitstream Vera Sans', 'Computer Modern Sans Serif', 'Lucida Grande', 'Verdana', 'Geneva', 'Lucid', 'Arial', 'Helvetica', 'Avant Garde', sans-serif; text-anchor: end; fill: #231f20" x="225.09" y="293.313764" transform="rotate(-0 225.09 293.313764)">0.6</text>
</g>
</g>
<g id="ytick_23">
<g id="line2d_52">
<g>
<path d="M 0 0
L -3.65 0
" transform="translate(232.24 262.663636)" style="fill: #231f20; stroke: #231f20; stroke-width: 0.8"/>
</g>
</g>
<g id="text_47">
<text style="font-size: 10px; font-family: 'DejaVu Sans', 'Bitstream Vera Sans', 'Computer Modern Sans Serif', 'Lucida Grande', 'Verdana', 'Geneva', 'Lucid', 'Arial', 'Helvetica', 'Avant Garde', sans-serif; text-anchor: end; fill: #231f20" x="225.09" y="266.462855" transform="rotate(-0 225.09 266.462855)">0.8</text>
</g>
</g>
<g id="ytick_24">
<g id="line2d_53">
<g>
<path d="M 0 0
L -3.65 0
" transform="translate(232.24 235.812727)" style="fill: #231f20; stroke: #231f20; stroke-width: 0.8"/>
</g>
</g>
<g id="text_48">
<text style="font-size: 10px; font-family: 'DejaVu Sans', 'Bitstream Vera Sans', 'Computer Modern Sans Serif', 'Lucida Grande', 'Verdana', 'Geneva', 'Lucid', 'Arial', 'Helvetica', 'Avant Garde', sans-serif; text-anchor: end; fill: #231f20" x="225.09" y="239.611946" transform="rotate(-0 225.09 239.611946)">1.0</text>
</g>
</g>
</g>
<g id="line2d_54">
<path d="M 240.212 353.339156
L 248.182 353.339156
L 248.182 311.720247
L 256.152 311.720247
L 256.152 250.097411
L 264.122 250.097411
L 264.122 235.812727
L 272.092 235.812727
L 272.092 286.480393
L 280.062 286.480393
L 280.062 340.047956
L 288.032 340.047956
L 288.032 358.306575
L 296.002 358.306575
L 296.002 356.964029
L 303.972 356.964029
L 303.972 358.977847
L 311.942 358.977847
L 311.942 364.750793
L 319.912 364.750793
L 319.912 368.375665
L 327.882 368.375665
L 327.882 369.98672
L 335.852 369.98672
L 335.852 370.067273
L 343.822 370.067273
L 343.822 370.067273
L 351.792 370.067273
L 351.792 370.067273
L 359.762 370.067273
L 359.762 370.067273
L 367.732 370.067273
L 367.732 370.067273
L 375.702 370.067273
L 375.702 370.067273
L 383.672 370.067273
L 383.672 370.067273
L 391.642 370.067273
L 391.642 370.067273
L 399.612 370.067273
" clip-path="url(#pe41eddac4d)" style="fill: none; stroke: #231f20; stroke-width: 1.1; stroke-linejoin: miter; stroke-linecap: square"/>
</g>
<g id="line2d_55">
<path d="M 258.96 376.78
L 258.96 229.1
" clip-path="url(#pe41eddac4d)" style="fill: none; stroke-dasharray: 5.5278,2.3904; stroke-dashoffset: 0; stroke: #231f20; stroke-width: 1.5"/>
</g>
<g id="line2d_56">
<path d="M 268 376.78
L 268 229.1
" clip-path="url(#pe41eddac4d)" style="fill: none; stroke-dasharray: 5.5278,2.3904; stroke-dashoffset: 0; stroke: #231f20; stroke-width: 1.5"/>
</g>
<g id="line2d_57">
<path d="M 277.28 376.78
L 277.28 229.1
" clip-path="url(#pe41eddac4d)" style="fill: none; stroke-dasharray: 5.5278,2.3904; stroke-dashoffset: 0; stroke: #231f20; stroke-width: 1.5"/>
</g>
<g id="patch_18">
<path d="M 232.24 376.78
L 232.24 229.1
" style="fill: none; stroke: #231f20; stroke-width: 0.8; stroke-linejoin: miter; stroke-linecap: square"/>
</g>
<g id="patch_19">
<path d="M 407.6 376.78
L 407.6 229.1
" style="fill: none; stroke: #231f20; stroke-width: 0.8; stroke-linejoin: miter; stroke-linecap: square"/>
</g>
<g id="patch_20">
<path d="M 232.24 376.78
L 407.6 376.78
" style="fill: none; stroke: #231f20; stroke-width: 0.8; stroke-linejoin: miter; stroke-linecap: square"/>
</g>
<g id="patch_21">
<path d="M 232.24 229.1
L 407.6 229.1
" style="fill: none; stroke: #231f20; stroke-width: 0.8; stroke-linejoin: miter; stroke-linecap: square"/>
</g>
<g id="text_49">
<g style="fill: #231f20" transform="translate(256.44 223.1)">
<text>
<tspan x="0" y="-0.171875" style="font-size: 12px; font-family: 'DejaVu Sans'; fill: #231f20">l</tspan>
<tspan x="3.333984" y="-0.171875" style="font-size: 12px; font-family: 'DejaVu Sans'; fill: #231f20">o</tspan>
<tspan x="10.675781" y="-0.171875" style="font-size: 12px; font-family: 'DejaVu Sans'; fill: #231f20">g</tspan>
<tspan x="18.292969" y="-0.171875" style="font-size: 12px; font-family: 'DejaVu Sans'; fill: #231f20">(</tspan>
<tspan x="30.199219" y="-0.171875" style="font-size: 12px; font-family: 'DejaVu Sans'; fill: #231f20">[</tspan>
<tspan x="34.880859" y="-0.171875" style="font-size: 12px; font-family: 'DejaVu Sans'; fill: #231f20">y</tspan>
<tspan x="41.982422" y="-0.171875" style="font-size: 12px; font-family: 'DejaVu Sans'; fill: #231f20">r</tspan>
<tspan x="46.916016" y="-0.171875" style="font-size: 12px; font-family: 'DejaVu Sans'; fill: #231f20">]</tspan>
<tspan x="51.597656" y="-0.171875" style="font-size: 12px; font-family: 'DejaVu Sans'; fill: #231f20">)</tspan>
<tspan x="56.279297" y="-0.171875" style="font-size: 12px; font-family: 'DejaVu Sans'; fill: #231f20"> </tspan>
<tspan x="60.09375" y="-0.171875" style="font-size: 12px; font-family: 'DejaVu Sans'; fill: #231f20">=</tspan>
<tspan x="70.148438" y="-0.171875" style="font-size: 12px; font-family: 'DejaVu Sans'; fill: #231f20"> </tspan>
<tspan x="73.962891" y="-0.171875" style="font-size: 12px; font-family: 'DejaVu Sans'; fill: #231f20">9</tspan>
<tspan x="81.597656" y="-0.171875" style="font-size: 12px; font-family: 'DejaVu Sans'; fill: #231f20">.</tspan>
<tspan x="85.412109" y="-0.171875" style="font-size: 12px; font-family: 'DejaVu Sans'; fill: #231f20">4</tspan>
<tspan x="93.046875" y="-0.171875" style="font-size: 12px; font-family: 'DejaVu Sans'; fill: #231f20">3</tspan>
<tspan x="22.974609" y="-0.171875" style="font-style: oblique; font-size: 12px; font-family: 'DejaVu Sans'; fill: #231f20">τ</tspan>
<tspan x="100.796484" y="-4.765625" style="font-size: 8.4px; font-family: 'DejaVu Sans'; fill: #231f20">+</tspan>
<tspan x="100.796484" y="3.109375" style="font-size: 8.4px; font-family: 'DejaVu Sans'; fill: #231f20">−</tspan>
<tspan x="107.834766" y="-4.765625" style="font-size: 8.4px; font-family: 'DejaVu Sans'; fill: #231f20">0</tspan>
<tspan x="107.834766" y="3.109375" style="font-size: 8.4px; font-family: 'DejaVu Sans'; fill: #231f20">0</tspan>
<tspan x="113.179102" y="-4.765625" style="font-size: 8.4px; font-family: 'DejaVu Sans'; fill: #231f20">.</tspan>
<tspan x="113.179102" y="3.109375" style="font-size: 8.4px; font-family: 'DejaVu Sans'; fill: #231f20">.</tspan>
<tspan x="115.849219" y="-4.765625" style="font-size: 8.4px; font-family: 'DejaVu Sans'; fill: #231f20">0</tspan>
<tspan x="115.849219" y="3.109375" style="font-size: 8.4px; font-family: 'DejaVu Sans'; fill: #231f20">0</tspan>
<tspan x="121.193555" y="-4.765625" style="font-size: 8.4px; font-family: 'DejaVu Sans'; fill: #231f20">2</tspan>
<tspan x="121.193555" y="3.109375" style="font-size: 8.4px; font-family: 'DejaVu Sans'; fill: #231f20">2</tspan>
</text>
</g>
</g>
</g>
<g id="axes_5">
<g id="patch_22">
<path d="M 22.2 588.88
L 197.56 588.88
L 197.56 441.2
L 22.2 441.2
z
" style="fill: #ffffff"/>
</g>
<g id="matplotlib.axis_9">
<g id="xtick_18">
<g id="line2d_58">
<g>
<path d="M 0 0
L 0 3.65
" transform="translate(52.54 588.88)" style="fill: #231f20; stroke: #231f20; stroke-width: 0.8"/>
</g>
</g>
<g id="text_50">
<text style="font-size: 10px; font-family: 'DejaVu Sans', 'Bitstream Vera Sans', 'Computer Modern Sans Serif', 'Lucida Grande', 'Verdana', 'Geneva', 'Lucid', 'Arial', 'Helvetica', 'Avant Garde', sans-serif; text-anchor: middle; fill: #231f20" x="52.54" y="603.628438" transform="rotate(-0 52.54 603.628438)">9.5</text>
</g>
</g>
<g id="xtick_19">
<g id="line2d_59">
<g>
<path d="M 0 0
L 0 3.65
" transform="translate(101.84 588.88)" style="fill: #231f20; stroke: #231f20; stroke-width: 0.8"/>
</g>
</g>
<g id="text_51">
<text style="font-size: 10px; font-family: 'DejaVu Sans', 'Bitstream Vera Sans', 'Computer Modern Sans Serif', 'Lucida Grande', 'Verdana', 'Geneva', 'Lucid', 'Arial', 'Helvetica', 'Avant Garde', sans-serif; text-anchor: middle; fill: #231f20" x="101.84" y="603.628438" transform="rotate(-0 101.84 603.628438)">10.0</text>
</g>
</g>
<g id="xtick_20">
<g id="line2d_60">
<g>
<path d="M 0 0
L 0 3.65
" transform="translate(151.14 588.88)" style="fill: #231f20; stroke: #231f20; stroke-width: 0.8"/>
</g>
</g>
<g id="text_52">
<text style="font-size: 10px; font-family: 'DejaVu Sans', 'Bitstream Vera Sans', 'Computer Modern Sans Serif', 'Lucida Grande', 'Verdana', 'Geneva', 'Lucid', 'Arial', 'Helvetica', 'Avant Garde', sans-serif; text-anchor: middle; fill: #231f20" x="151.14" y="603.628438" transform="rotate(-0 151.14 603.628438)">10.5</text>
</g>
</g>
<g id="text_53">
<g style="fill: #231f20" transform="translate(93.14 619.42625)">
<text>
<tspan x="0" y="-0.875" style="font-style: oblique; font-size: 12px; font-family: 'DejaVu Sans'; fill: #231f20">L</tspan>
<tspan x="11.367188" y="-0.875" style="font-style: oblique; font-size: 12px; font-family: 'DejaVu Sans'; fill: #231f20">L</tspan>
<tspan x="6.685547" y="-0.875" style="font-size: 12px; font-family: 'DejaVu Sans'; fill: #231f20">[</tspan>
<tspan x="28.692187" y="-0.875" style="font-size: 12px; font-family: 'DejaVu Sans'; fill: #231f20">]</tspan>
<tspan x="19.689258" y="1.09375" style="font-size: 8.4px; font-family: 'DejaVu Sans'; fill: #231f20">⊙</tspan>
</text>
</g>
</g>
</g>
<g id="matplotlib.axis_10">
<g id="ytick_25">
<g id="line2d_61">
<g>
<path d="M 0 0
L -3.65 0
" transform="translate(22.2 582.167273)" style="fill: #231f20; stroke: #231f20; stroke-width: 0.8"/>
</g>
</g>
<g id="text_54">
<text style="font-size: 10px; font-family: 'DejaVu Sans', 'Bitstream Vera Sans', 'Computer Modern Sans Serif', 'Lucida Grande', 'Verdana', 'Geneva', 'Lucid', 'Arial', 'Helvetica', 'Avant Garde', sans-serif; text-anchor: end; fill: #231f20" x="15.05" y="585.966491" transform="rotate(-0 15.05 585.966491)">0.0</text>
</g>
</g>
<g id="ytick_26">
<g id="line2d_62">
<g>
<path d="M 0 0
L -3.65 0
" transform="translate(22.2 555.316364)" style="fill: #231f20; stroke: #231f20; stroke-width: 0.8"/>
</g>
</g>
<g id="text_55">
<text style="font-size: 10px; font-family: 'DejaVu Sans', 'Bitstream Vera Sans', 'Computer Modern Sans Serif', 'Lucida Grande', 'Verdana', 'Geneva', 'Lucid', 'Arial', 'Helvetica', 'Avant Garde', sans-serif; text-anchor: end; fill: #231f20" x="15.05" y="559.115582" transform="rotate(-0 15.05 559.115582)">0.2</text>
</g>
</g>
<g id="ytick_27">
<g id="line2d_63">
<g>
<path d="M 0 0
L -3.65 0
" transform="translate(22.2 528.465455)" style="fill: #231f20; stroke: #231f20; stroke-width: 0.8"/>
</g>
</g>
<g id="text_56">
<text style="font-size: 10px; font-family: 'DejaVu Sans', 'Bitstream Vera Sans', 'Computer Modern Sans Serif', 'Lucida Grande', 'Verdana', 'Geneva', 'Lucid', 'Arial', 'Helvetica', 'Avant Garde', sans-serif; text-anchor: end; fill: #231f20" x="15.05" y="532.264673" transform="rotate(-0 15.05 532.264673)">0.4</text>
</g>
</g>
<g id="ytick_28">
<g id="line2d_64">
<g>
<path d="M 0 0
L -3.65 0
" transform="translate(22.2 501.614545)" style="fill: #231f20; stroke: #231f20; stroke-width: 0.8"/>
</g>
</g>
<g id="text_57">
<text style="font-size: 10px; font-family: 'DejaVu Sans', 'Bitstream Vera Sans', 'Computer Modern Sans Serif', 'Lucida Grande', 'Verdana', 'Geneva', 'Lucid', 'Arial', 'Helvetica', 'Avant Garde', sans-serif; text-anchor: end; fill: #231f20" x="15.05" y="505.413764" transform="rotate(-0 15.05 505.413764)">0.6</text>
</g>
</g>
<g id="ytick_29">
<g id="line2d_65">
<g>
<path d="M 0 0
L -3.65 0
" transform="translate(22.2 474.763636)" style="fill: #231f20; stroke: #231f20; stroke-width: 0.8"/>
</g>
</g>
<g id="text_58">
<text style="font-size: 10px; font-family: 'DejaVu Sans', 'Bitstream Vera Sans', 'Computer Modern Sans Serif', 'Lucida Grande', 'Verdana', 'Geneva', 'Lucid', 'Arial', 'Helvetica', 'Avant Garde', sans-serif; text-anchor: end; fill: #231f20" x="15.05" y="478.562855" transform="rotate(-0 15.05 478.562855)">0.8</text>
</g>
</g>
<g id="ytick_30">
<g id="line2d_66">
<g>
<path d="M 0 0
L -3.65 0
" transform="translate(22.2 447.912727)" style="fill: #231f20; stroke: #231f20; stroke-width: 0.8"/>
</g>
</g>
<g id="text_59">
<text style="font-size: 10px; font-family: 'DejaVu Sans', 'Bitstream Vera Sans', 'Computer Modern Sans Serif', 'Lucida Grande', 'Verdana', 'Geneva', 'Lucid', 'Arial', 'Helvetica', 'Avant Garde', sans-serif; text-anchor: end; fill: #231f20" x="15.05" y="451.711946" transform="rotate(-0 15.05 451.711946)">1.0</text>
</g>
</g>
</g>
<g id="line2d_67">
<path d="M 30.172 582.167273
L 38.142 582.167273
L 38.142 581.146938
L 46.112 581.146938
L 46.112 578.193338
L 54.082 578.193338
L 54.082 568.929775
L 62.052 568.929775
L 62.052 552.953484
L 70.022 552.953484
L 70.022 544.226938
L 77.992 544.226938
L 77.992 538.991011
L 85.962 538.991011
L 85.962 524.223011
L 93.932 524.223011
L 93.932 494.821265
L 101.902 494.821265
L 101.902 447.912727
L 109.872 447.912727
L 109.872 449.577484
L 117.842 449.577484
L 117.842 515.227956
L 125.812 515.227956
L 125.812 565.573411
L 133.782 565.573411
L 133.782 577.387811
L 141.752 577.387811
L 141.752 576.716538
L 149.722 576.716538
L 149.722 577.119302
L 157.692 577.119302
L 157.692 578.461847
L 165.662 578.461847
L 165.662 580.60992
L 173.632 580.60992
L 173.632 581.818211
L 181.602 581.818211
L 181.602 582.167273
L 189.572 582.167273
" clip-path="url(#p8f24b40260)" style="fill: none; stroke: #231f20; stroke-width: 1.1; stroke-linejoin: miter; stroke-linecap: square"/>
</g>
<g id="line2d_68">
<path d="M 80.48 588.88
L 80.48 441.2
" clip-path="url(#p8f24b40260)" style="fill: none; stroke-dasharray: 5.5278,2.3904; stroke-dashoffset: 0; stroke: #231f20; stroke-width: 1.5"/>
</g>
<g id="line2d_69">
<path d="M 102.64 588.88
L 102.64 441.2
" clip-path="url(#p8f24b40260)" style="fill: none; stroke-dasharray: 5.5278,2.3904; stroke-dashoffset: 0; stroke: #231f20; stroke-width: 1.5"/>
</g>
<g id="line2d_70">
<path d="M 111.6 588.88
L 111.6 441.2
" clip-path="url(#p8f24b40260)" style="fill: none; stroke-dasharray: 5.5278,2.3904; stroke-dashoffset: 0; stroke: #231f20; stroke-width: 1.5"/>
</g>
<g id="patch_23">
<path d="M 22.2 588.88
L 22.2 441.2
" style="fill: none; stroke: #231f20; stroke-width: 0.8; stroke-linejoin: miter; stroke-linecap: square"/>
</g>
<g id="patch_24">
<path d="M 197.56 588.88
L 197.56 441.2
" style="fill: none; stroke: #231f20; stroke-width: 0.8; stroke-linejoin: miter; stroke-linecap: square"/>
</g>
<g id="patch_25">
<path d="M 22.2 588.88
L 197.56 588.88
" style="fill: none; stroke: #231f20; stroke-width: 0.8; stroke-linejoin: miter; stroke-linecap: square"/>
</g>
<g id="patch_26">
<path d="M 22.2 441.2
L 197.56 441.2
" style="fill: none; stroke: #231f20; stroke-width: 0.8; stroke-linejoin: miter; stroke-linecap: square"/>
</g>
<g id="text_60">
<g style="fill: #231f20" transform="translate(54.08 435.2)">
<text>
<tspan x="0" y="-0.171875" style="font-style: oblique; font-size: 12px; font-family: 'DejaVu Sans'; fill: #231f20">L</tspan>
<tspan x="11.367188" y="-0.171875" style="font-style: oblique; font-size: 12px; font-family: 'DejaVu Sans'; fill: #231f20">L</tspan>
<tspan x="6.685547" y="-0.171875" style="font-size: 12px; font-family: 'DejaVu Sans'; fill: #231f20">[</tspan>
<tspan x="28.692187" y="-0.171875" style="font-size: 12px; font-family: 'DejaVu Sans'; fill: #231f20">]</tspan>
<tspan x="33.373828" y="-0.171875" style="font-size: 12px; font-family: 'DejaVu Sans'; fill: #231f20"> </tspan>
<tspan x="37.188281" y="-0.171875" style="font-size: 12px; font-family: 'DejaVu Sans'; fill: #231f20">=</tspan>
<tspan x="47.242969" y="-0.171875" style="font-size: 12px; font-family: 'DejaVu Sans'; fill: #231f20"> </tspan>
<tspan x="51.057422" y="-0.171875" style="font-size: 12px; font-family: 'DejaVu Sans'; fill: #231f20">1</tspan>
<tspan x="58.692188" y="-0.171875" style="font-size: 12px; font-family: 'DejaVu Sans'; fill: #231f20">0</tspan>
<tspan x="66.326953" y="-0.171875" style="font-size: 12px; font-family: 'DejaVu Sans'; fill: #231f20">.</tspan>
<tspan x="70.141406" y="-0.171875" style="font-size: 12px; font-family: 'DejaVu Sans'; fill: #231f20">0</tspan>
<tspan x="77.776172" y="-0.171875" style="font-size: 12px; font-family: 'DejaVu Sans'; fill: #231f20">1</tspan>
<tspan x="19.689258" y="1.796875" style="font-size: 8.4px; font-family: 'DejaVu Sans'; fill: #231f20">⊙</tspan>
<tspan x="85.525781" y="-4.765625" style="font-size: 8.4px; font-family: 'DejaVu Sans'; fill: #231f20">+</tspan>
<tspan x="85.525781" y="3.109375" style="font-size: 8.4px; font-family: 'DejaVu Sans'; fill: #231f20">−</tspan>
<tspan x="92.564063" y="-4.765625" style="font-size: 8.4px; font-family: 'DejaVu Sans'; fill: #231f20">0</tspan>
<tspan x="92.564063" y="3.109375" style="font-size: 8.4px; font-family: 'DejaVu Sans'; fill: #231f20">0</tspan>
<tspan x="97.908398" y="-4.765625" style="font-size: 8.4px; font-family: 'DejaVu Sans'; fill: #231f20">.</tspan>
<tspan x="97.908398" y="3.109375" style="font-size: 8.4px; font-family: 'DejaVu Sans'; fill: #231f20">.</tspan>
<tspan x="100.141016" y="3.109375" style="font-size: 8.4px; font-family: 'DejaVu Sans'; fill: #231f20">2</tspan>
<tspan x="100.578516" y="-4.765625" style="font-size: 8.4px; font-family: 'DejaVu Sans'; fill: #231f20">0</tspan>
<tspan x="105.485352" y="3.109375" style="font-size: 8.4px; font-family: 'DejaVu Sans'; fill: #231f20">2</tspan>
<tspan x="105.922852" y="-4.765625" style="font-size: 8.4px; font-family: 'DejaVu Sans'; fill: #231f20">9</tspan>
</text>
</g>
</g>
</g>
<g id="axes_6">
<g id="patch_27">
<path d="M 232.24 588.88
L 407.6 588.88
L 407.6 441.2
L 232.24 441.2
z
" style="fill: #ffffff"/>
</g>
<g id="matplotlib.axis_11">
<g id="xtick_21">
<g id="line2d_71">
<g>
<path d="M 0 0
L 0 3.65
" transform="translate(269.4 588.88)" style="fill: #231f20; stroke: #231f20; stroke-width: 0.8"/>
</g>
</g>
<g id="text_61">
<text style="font-size: 10px; font-family: 'DejaVu Sans', 'Bitstream Vera Sans', 'Computer Modern Sans Serif', 'Lucida Grande', 'Verdana', 'Geneva', 'Lucid', 'Arial', 'Helvetica', 'Avant Garde', sans-serif; text-anchor: middle; fill: #231f20" x="269.4" y="603.628438" transform="rotate(-0 269.4 603.628438)">4900</text>
</g>
</g>
<g id="xtick_22">
<g id="line2d_72">
<g>
<path d="M 0 0
L 0 3.65
" transform="translate(318.6 588.88)" style="fill: #231f20; stroke: #231f20; stroke-width: 0.8"/>
</g>
</g>
<g id="text_62">
<text style="font-size: 10px; font-family: 'DejaVu Sans', 'Bitstream Vera Sans', 'Computer Modern Sans Serif', 'Lucida Grande', 'Verdana', 'Geneva', 'Lucid', 'Arial', 'Helvetica', 'Avant Garde', sans-serif; text-anchor: middle; fill: #231f20" x="318.6" y="603.628438" transform="rotate(-0 318.6 603.628438)">5000</text>
</g>
</g>
<g id="xtick_23">
<g id="line2d_73">
<g>
<path d="M 0 0
L 0 3.65
" transform="translate(367.8 588.88)" style="fill: #231f20; stroke: #231f20; stroke-width: 0.8"/>
</g>
</g>
<g id="text_63">
<text style="font-size: 10px; font-family: 'DejaVu Sans', 'Bitstream Vera Sans', 'Computer Modern Sans Serif', 'Lucida Grande', 'Verdana', 'Geneva', 'Lucid', 'Arial', 'Helvetica', 'Avant Garde', sans-serif; text-anchor: middle; fill: #231f20" x="367.8" y="603.628438" transform="rotate(-0 367.8 603.628438)">5100</text>
</g>
</g>
<g id="text_64">
<text style="font-size: 12px; font-family: 'DejaVu Sans', 'Bitstream Vera Sans', 'Computer Modern Sans Serif', 'Lucida Grande', 'Verdana', 'Geneva', 'Lucid', 'Arial', 'Helvetica', 'Avant Garde', sans-serif; text-anchor: middle; fill: #231f20" x="319.92" y="618.82625" transform="rotate(-0 319.92 618.82625)">T[K]</text>
</g>
</g>
<g id="matplotlib.axis_12">
<g id="ytick_31">
<g id="line2d_74">
<g>
<path d="M 0 0
L -3.65 0
" transform="translate(232.24 582.167273)" style="fill: #231f20; stroke: #231f20; stroke-width: 0.8"/>
</g>
</g>
<g id="text_65">
<text style="font-size: 10px; font-family: 'DejaVu Sans', 'Bitstream Vera Sans', 'Computer Modern Sans Serif', 'Lucida Grande', 'Verdana', 'Geneva', 'Lucid', 'Arial', 'Helvetica', 'Avant Garde', sans-serif; text-anchor: end; fill: #231f20" x="225.09" y="585.966491" transform="rotate(-0 225.09 585.966491)">0.0</text>
</g>
</g>
<g id="ytick_32">
<g id="line2d_75">
<g>
<path d="M 0 0
L -3.65 0
" transform="translate(232.24 555.316364)" style="fill: #231f20; stroke: #231f20; stroke-width: 0.8"/>
</g>
</g>
<g id="text_66">
<text style="font-size: 10px; font-family: 'DejaVu Sans', 'Bitstream Vera Sans', 'Computer Modern Sans Serif', 'Lucida Grande', 'Verdana', 'Geneva', 'Lucid', 'Arial', 'Helvetica', 'Avant Garde', sans-serif; text-anchor: end; fill: #231f20" x="225.09" y="559.115582" transform="rotate(-0 225.09 559.115582)">0.2</text>
</g>
</g>
<g id="ytick_33">
<g id="line2d_76">
<g>
<path d="M 0 0
L -3.65 0
" transform="translate(232.24 528.465455)" style="fill: #231f20; stroke: #231f20; stroke-width: 0.8"/>
</g>
</g>
<g id="text_67">
<text style="font-size: 10px; font-family: 'DejaVu Sans', 'Bitstream Vera Sans', 'Computer Modern Sans Serif', 'Lucida Grande', 'Verdana', 'Geneva', 'Lucid', 'Arial', 'Helvetica', 'Avant Garde', sans-serif; text-anchor: end; fill: #231f20" x="225.09" y="532.264673" transform="rotate(-0 225.09 532.264673)">0.4</text>
</g>
</g>
<g id="ytick_34">
<g id="line2d_77">
<g>
<path d="M 0 0
L -3.65 0
" transform="translate(232.24 501.614545)" style="fill: #231f20; stroke: #231f20; stroke-width: 0.8"/>
</g>
</g>
<g id="text_68">
<text style="font-size: 10px; font-family: 'DejaVu Sans', 'Bitstream Vera Sans', 'Computer Modern Sans Serif', 'Lucida Grande', 'Verdana', 'Geneva', 'Lucid', 'Arial', 'Helvetica', 'Avant Garde', sans-serif; text-anchor: end; fill: #231f20" x="225.09" y="505.413764" transform="rotate(-0 225.09 505.413764)">0.6</text>
</g>
</g>
<g id="ytick_35">
<g id="line2d_78">
<g>
<path d="M 0 0
L -3.65 0
" transform="translate(232.24 474.763636)" style="fill: #231f20; stroke: #231f20; stroke-width: 0.8"/>
</g>
</g>
<g id="text_69">
<text style="font-size: 10px; font-family: 'DejaVu Sans', 'Bitstream Vera Sans', 'Computer Modern Sans Serif', 'Lucida Grande', 'Verdana', 'Geneva', 'Lucid', 'Arial', 'Helvetica', 'Avant Garde', sans-serif; text-anchor: end; fill: #231f20" x="225.09" y="478.562855" transform="rotate(-0 225.09 478.562855)">0.8</text>
</g>
</g>
<g id="ytick_36">
<g id="line2d_79">
<g>
<path d="M 0 0
L -3.65 0
" transform="translate(232.24 447.912727)" style="fill: #231f20; stroke: #231f20; stroke-width: 0.8"/>
</g>
</g>
<g id="text_70">
<text style="font-size: 10px; font-family: 'DejaVu Sans', 'Bitstream Vera Sans', 'Computer Modern Sans Serif', 'Lucida Grande', 'Verdana', 'Geneva', 'Lucid', 'Arial', 'Helvetica', 'Avant Garde', sans-serif; text-anchor: end; fill: #231f20" x="225.09" y="451.711946" transform="rotate(-0 225.09 451.711946)">1.0</text>
</g>
</g>
</g>
<g id="line2d_80">
<path d="M 240.212 582.167273
L 248.182 582.167273
L 248.182 582.167273
L 256.152 582.167273
L 256.152 581.415447
L 264.122 581.415447
L 264.122 578.998865
L 272.092 578.998865
L 272.092 574.836975
L 280.062 574.836975
L 280.062 570.003811
L 288.032 570.003811
L 288.032 569.064029
L 296.002 569.064029
L 296.002 574.165702
L 303.972 574.165702
L 303.972 573.22592
L 311.942 573.22592
L 311.942 549.731375
L 319.912 549.731375
L 319.912 498.177629
L 327.882 498.177629
L 327.882 447.912727
L 335.852 447.912727
L 335.852 452.799593
L 343.822 452.799593
L 343.822 509.186502
L 351.792 509.186502
L 351.792 554.833047
L 359.762 554.833047
L 359.762 573.360175
L 367.732 573.360175
L 367.732 579.804393
L 375.702 579.804393
L 375.702 581.818211
L 383.672 581.818211
L 383.672 582.167273
L 391.642 582.167273
L 391.642 582.167273
L 399.612 582.167273
" clip-path="url(#p907bc1b116)" style="fill: none; stroke: #231f20; stroke-width: 1.1; stroke-linejoin: miter; stroke-linecap: square"/>
</g>
<g id="line2d_81">
<path d="M 323.48 588.88
L 323.48 441.2
" clip-path="url(#p907bc1b116)" style="fill: none; stroke-dasharray: 5.5278,2.3904; stroke-dashoffset: 0; stroke: #231f20; stroke-width: 1.5"/>
</g>
<g id="line2d_82">
<path d="M 331.08 588.88
L 331.08 441.2
" clip-path="url(#p907bc1b116)" style="fill: none; stroke-dasharray: 5.5278,2.3904; stroke-dashoffset: 0; stroke: #231f20; stroke-width: 1.5"/>
</g>
<g id="line2d_83">
<path d="M 342.56 588.88
L 342.56 441.2
" clip-path="url(#p907bc1b116)" style="fill: none; stroke-dasharray: 5.5278,2.3904; stroke-dashoffset: 0; stroke: #231f20; stroke-width: 1.5"/>
</g>
<g id="patch_28">
<path d="M 232.24 588.88
L 232.24 441.2
" style="fill: none; stroke: #231f20; stroke-width: 0.8; stroke-linejoin: miter; stroke-linecap: square"/>
</g>
<g id="patch_29">
<path d="M 407.6 588.88
L 407.6 441.2
" style="fill: none; stroke: #231f20; stroke-width: 0.8; stroke-linejoin: miter; stroke-linecap: square"/>
</g>
<g id="patch_30">
<path d="M 232.24 588.88
L 407.6 588.88
" style="fill: none; stroke: #231f20; stroke-width: 0.8; stroke-linejoin: miter; stroke-linecap: square"/>
</g>
<g id="patch_31">
<path d="M 232.24 441.2
L 407.6 441.2
" style="fill: none; stroke: #231f20; stroke-width: 0.8; stroke-linejoin: miter; stroke-linecap: square"/>
</g>
<g id="text_71">
<g style="fill: #231f20" transform="translate(258.18 435.2)">
<text>
<tspan x="0" y="-0.171875" style="font-size: 12px; font-family: 'DejaVu Sans'; fill: #231f20">T</tspan>
<tspan x="7.330078" y="-0.171875" style="font-size: 12px; font-family: 'DejaVu Sans'; fill: #231f20">[</tspan>
<tspan x="12.011719" y="-0.171875" style="font-size: 12px; font-family: 'DejaVu Sans'; fill: #231f20">K</tspan>
<tspan x="19.880859" y="-0.171875" style="font-size: 12px; font-family: 'DejaVu Sans'; fill: #231f20">]</tspan>
<tspan x="24.5625" y="-0.171875" style="font-size: 12px; font-family: 'DejaVu Sans'; fill: #231f20"> </tspan>
<tspan x="28.376953" y="-0.171875" style="font-size: 12px; font-family: 'DejaVu Sans'; fill: #231f20">=</tspan>
<tspan x="38.431641" y="-0.171875" style="font-size: 12px; font-family: 'DejaVu Sans'; fill: #231f20"> </tspan>
<tspan x="42.246094" y="-0.171875" style="font-size: 12px; font-family: 'DejaVu Sans'; fill: #231f20">5</tspan>
<tspan x="49.880859" y="-0.171875" style="font-size: 12px; font-family: 'DejaVu Sans'; fill: #231f20">0</tspan>
<tspan x="57.515625" y="-0.171875" style="font-size: 12px; font-family: 'DejaVu Sans'; fill: #231f20">2</tspan>
<tspan x="65.150391" y="-0.171875" style="font-size: 12px; font-family: 'DejaVu Sans'; fill: #231f20">5</tspan>
<tspan x="72.785156" y="-0.171875" style="font-size: 12px; font-family: 'DejaVu Sans'; fill: #231f20">.</tspan>
<tspan x="76.599609" y="-0.171875" style="font-size: 12px; font-family: 'DejaVu Sans'; fill: #231f20">3</tspan>
<tspan x="84.234375" y="-0.171875" style="font-size: 12px; font-family: 'DejaVu Sans'; fill: #231f20">9</tspan>
<tspan x="91.983984" y="-4.765625" style="font-size: 8.4px; font-family: 'DejaVu Sans'; fill: #231f20">+</tspan>
<tspan x="91.983984" y="3.109375" style="font-size: 8.4px; font-family: 'DejaVu Sans'; fill: #231f20">−</tspan>
<tspan x="99.022266" y="-4.765625" style="font-size: 8.4px; font-family: 'DejaVu Sans'; fill: #231f20">2</tspan>
<tspan x="99.022266" y="3.109375" style="font-size: 8.4px; font-family: 'DejaVu Sans'; fill: #231f20">1</tspan>
<tspan x="104.366602" y="-4.765625" style="font-size: 8.4px; font-family: 'DejaVu Sans'; fill: #231f20">3</tspan>
<tspan x="104.366602" y="3.109375" style="font-size: 8.4px; font-family: 'DejaVu Sans'; fill: #231f20">5</tspan>
<tspan x="109.710938" y="3.109375" style="font-size: 8.4px; font-family: 'DejaVu Sans'; fill: #231f20">.</tspan>
<tspan x="109.710938" y="-4.765625" style="font-size: 8.4px; font-family: 'DejaVu Sans'; fill: #231f20">.</tspan>
<tspan x="112.381055" y="3.109375" style="font-size: 8.4px; font-family: 'DejaVu Sans'; fill: #231f20">4</tspan>
<tspan x="112.381055" y="-4.765625" style="font-size: 8.4px; font-family: 'DejaVu Sans'; fill: #231f20">5</tspan>
<tspan x="117.112891" y="-4.765625" style="font-size: 8.4px; font-family: 'DejaVu Sans'; fill: #231f20">7</tspan>
<tspan x="117.725391" y="3.109375" style="font-size: 8.4px; font-family: 'DejaVu Sans'; fill: #231f20">9</tspan>
</text>
</g>
</g>
</g>
</g>
<defs>
<clipPath id="p7768ed4035">
<rect x="22.2" y="16.92" width="175.36" height="147.68"/>
</clipPath>
<clipPath id="pa40508219f">
<rect x="232.24" y="16.92" width="175.36" height="147.68"/>
</clipPath>
<clipPath id="p136ecbd6a4">
<rect x="22.2" y="229.1" width="175.36" height="147.68"/>
</clipPath>
<clipPath id="pe41eddac4d">
<rect x="232.24" y="229.1" width="175.36" height="147.68"/>
</clipPath>
<clipPath id="p8f24b40260">
<rect x="22.2" y="441.2" width="175.36" height="147.68"/>
</clipPath>
<clipPath id="p907bc1b116">
<rect x="232.24" y="441.2" width="175.36" height="147.68"/>
</clipPath>
</defs>
</svg>

</body></html>
